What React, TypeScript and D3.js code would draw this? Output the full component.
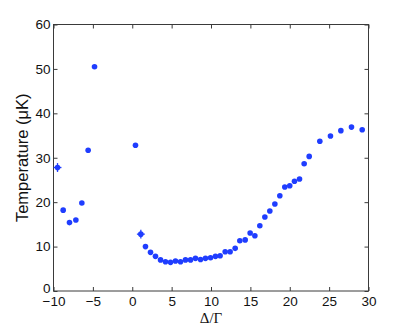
import { useEffect, useRef } from 'react';
import * as d3 from 'd3';

const detuning = [
  -9.49, -8.77, -7.97, -7.16, -6.4, -5.6, -4.79, 0.41, 1.09, 1.68, 2.32, 2.95, 3.59, 4.22,
  4.86, 5.49, 6.13, 6.76, 7.4, 8.03, 8.67, 9.3, 9.94, 10.57, 11.16, 11.8, 12.43, 13.07,
  13.66, 14.34, 14.97, 15.57, 16.2, 16.84, 17.47, 18.11, 18.74, 19.37, 20.0, 20.6, 21.24,
  21.83, 22.47, 23.82, 25.17, 26.49, 27.84, 29.2,
];
const temperature = [
  27.8, 18.2, 15.4, 16.0, 19.8, 31.7, 50.5, 32.8, 12.8, 10.0, 8.7, 7.8, 7.0, 6.6,
  6.45, 6.75, 6.6, 7.0, 7.0, 7.35, 7.1, 7.35, 7.5, 7.8, 7.95, 8.85, 8.85, 9.6,
  11.3, 11.5, 13.05, 12.45, 14.7, 16.65, 18.0, 19.6, 21.45, 23.4, 23.7, 24.7, 25.2,
  28.65, 30.3, 33.7, 34.9, 36.1, 36.9, 36.3,
];
// error bars shown only on two points
const errIdx = [0, 8];
const xErr = [0.5, 0.5];
const yErr = [1.0, 1.0];

const xTicks = [-10, -5, 0, 5, 10, 15, 20, 25, 30];
const yTicks = [0, 10, 20, 30, 40, 50, 60];

export default function App() {
  const svgRef = useRef<SVGSVGElement>(null);

  useEffect(() => {
    const svg = d3.select(svgRef.current);
    svg.selectAll('*').remove();

    const left = 53.5, right = 368.5, top = 24.5, bottom = 291;
    const x = d3.scaleLinear().domain([-10, 30]).range([left, right]);
    const y = d3.scaleLinear().domain([0, 60]).range([bottom, top]);
    const axisCol = '#3a3a3a';
    const font = 'Liberation Sans, Arial, Helvetica, sans-serif';

    svg.append('rect').attr('width', 407).attr('height', 328).attr('fill', 'white');

    const tl = 4;
    // bottom axis
    const gx = svg.append('g').attr('transform', `translate(0,${bottom})`)
      .call(d3.axisBottom(x).tickValues(xTicks).tickSize(-tl).tickSizeOuter(0).tickPadding(5)
        .tickFormat(d => (+d < 0 ? '\u2212' + Math.abs(+d) : String(d))));
    gx.select('.domain').remove();
    gx.selectAll('line').attr('stroke', axisCol);
    gx.selectAll('text').attr('font-family', font).attr('font-size', 13.5).attr('fill', '#111');
    // top ticks
    const gxt = svg.append('g').attr('transform', `translate(0,${top})`)
      .call(d3.axisTop(x).tickValues(xTicks).tickSize(-tl).tickSizeOuter(0).tickFormat(() => ''));
    gxt.select('.domain').remove();
    gxt.selectAll('line').attr('stroke', axisCol);

    const gy = svg.append('g').attr('transform', `translate(${left},0)`)
      .call(d3.axisLeft(y).tickValues(yTicks).tickSize(-tl).tickSizeOuter(0).tickPadding(3));
    gy.select('.domain').remove();
    gy.selectAll('line').attr('stroke', axisCol);
    gy.selectAll('text').attr('font-family', font).attr('font-size', 13.5).attr('fill', '#111');
    // lift the "0" a touch so it clears the "-10" below it
    gy.selectAll<SVGTextElement, number>('text').filter(d => d === 0).attr('dy', '0.08em');
    const gyr = svg.append('g').attr('transform', `translate(${right},0)`)
      .call(d3.axisRight(y).tickValues(yTicks).tickSize(-tl).tickSizeOuter(0).tickFormat(() => ''));
    gyr.select('.domain').remove();
    gyr.selectAll('line').attr('stroke', axisCol);

    svg.append('rect')
      .attr('x', left).attr('y', top).attr('width', right - left).attr('height', bottom - top)
      .attr('fill', 'none').attr('stroke', axisCol).attr('stroke-width', 1);

    const blue = '#1f3dff';
    // error bars
    const eb = svg.append('g').attr('stroke', blue).attr('stroke-width', 1.3);
    errIdx.forEach((k, j) => {
      const cx = detuning[k], cy = temperature[k];
      eb.append('line').attr('x1', x(cx - xErr[j])).attr('x2', x(cx + xErr[j]))
        .attr('y1', y(cy)).attr('y2', y(cy));
      eb.append('line').attr('x1', x(cx)).attr('x2', x(cx))
        .attr('y1', y(cy - yErr[j])).attr('y2', y(cy + yErr[j]));
    });

    svg.append('g').selectAll('circle')
      .data(detuning)
      .enter()
      .append('circle')
      .attr('cx', d => x(d))
      .attr('cy', (d, i) => y(temperature[i]))
      .attr('r', 2.8)
      .attr('fill', blue);

    svg.append('text')
      .attr('x', (left + right) / 2).attr('y', 323)
      .attr('text-anchor', 'middle')
      .attr('font-family', 'Liberation Serif, Times New Roman, serif')
      .attr('font-size', 15).attr('fill', '#111')
      .text('\u0394/\u0393');

    svg.append('text')
      .attr('transform', `translate(28,${(top + bottom) / 2}) rotate(-90)`)
      .attr('text-anchor', 'middle')
      .attr('font-family', font)
      .attr('font-size', 16.5).attr('fill', '#111')
      .text('Temperature (\u03bcK)');
  }, []);

  return (
    <svg ref={svgRef} width={407} height={328} style={{ position: 'absolute', left: 0, top: 0 }} />
  );
}
